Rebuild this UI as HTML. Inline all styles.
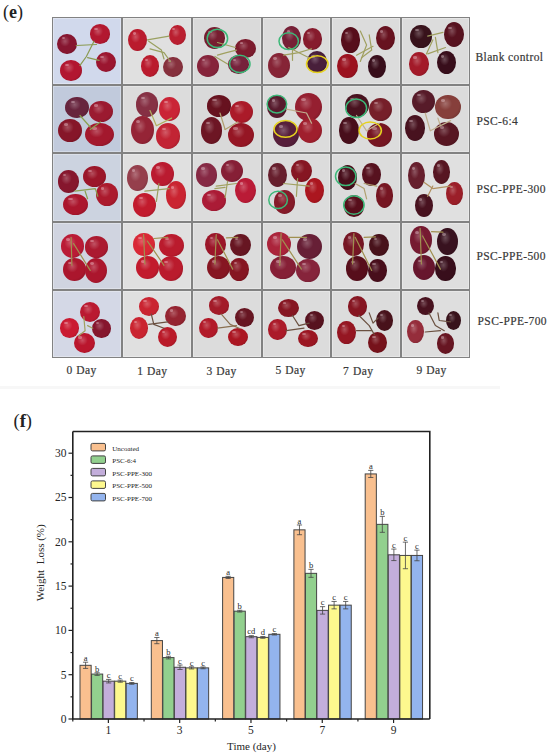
<!DOCTYPE html><html><head><meta charset="utf-8"><style>
*{margin:0;padding:0;box-sizing:border-box}
html,body{width:550px;height:756px;background:#fff;overflow:hidden}
body{position:relative;font-family:"Liberation Serif",serif}
.a{position:absolute}
.lbl{position:absolute;font-size:11.5px;letter-spacing:0.38px;color:#383838;-webkit-text-stroke:0.2px #383838;white-space:pre;line-height:1}
.ch{position:absolute;border-radius:50%}
</style></head><body><div class="a" style="left:3px;top:3px;font-size:18px;color:#222;line-height:1.1">(<b>e</b>)</div>
<div class="a" style="left:52px;top:17px;width:418px;height:341px;background:#828282"></div>
<div class="a" style="left:53px;top:18px;width:68px;height:66px;background:#d1d9ec;overflow:hidden;box-shadow:inset 0 0 0 1px rgba(255,255,255,0.3)">
<div class="ch" style="left:36.7px;top:6.1px;width:20.4px;height:19.6px;background:radial-gradient(ellipse at 40% 36%,#c55264 0,#b21830 30%,#b21830 62%,#791021 100%)"></div>
<div class="ch" style="left:41.3px;top:9.5px;width:3.6px;height:2.2px;background:rgba(255,235,240,0.35);filter:blur(0.4px)"></div>
<div class="ch" style="left:4.1px;top:15.5px;width:19.8px;height:20.4px;background:radial-gradient(ellipse at 40% 36%,#a45064 0,#861630 30%,#861630 62%,#5b0f21 100%)"></div>
<div class="ch" style="left:8.6px;top:19.1px;width:3.5px;height:2.2px;background:rgba(255,235,240,0.35);filter:blur(0.4px)"></div>
<div class="ch" style="left:7.2px;top:42.3px;width:21.6px;height:20.8px;background:radial-gradient(ellipse at 40% 36%,#c55064 0,#b21630 30%,#b21630 62%,#790f21 100%)"></div>
<div class="ch" style="left:12.1px;top:45.9px;width:3.8px;height:2.3px;background:rgba(255,235,240,0.35);filter:blur(0.4px)"></div>
<div class="ch" style="left:42.8px;top:34.1px;width:20.4px;height:20.4px;background:radial-gradient(ellipse at 40% 36%,#b45064 0,#9b1630 30%,#9b1630 62%,#690f21 100%)"></div>
<div class="ch" style="left:47.4px;top:37.7px;width:3.6px;height:2.2px;background:rgba(255,235,240,0.35);filter:blur(0.4px)"></div>
<svg class="a" style="left:0;top:0" width="68" height="66"><path d="M23.2 27.5L43.5 26.5" stroke="#8a9a50" stroke-width="1.2" fill="none" stroke-linecap="round" stroke-linejoin="round"/><path d="M41.0 23.2L33.4 38.5L27.0 47.4" stroke="#8a9a50" stroke-width="1.2" fill="none" stroke-linecap="round" stroke-linejoin="round"/><path d="M34.6 39.7L46.1 42.3" stroke="#8a9a50" stroke-width="1.2" fill="none" stroke-linecap="round" stroke-linejoin="round"/></svg>
</div>
<div class="a" style="left:123px;top:18px;width:68px;height:66px;background:#e0e0e0;overflow:hidden;box-shadow:inset 0 0 0 1px rgba(255,255,255,0.3)">
<div class="ch" style="left:5.4px;top:10.5px;width:19.0px;height:22.4px;background:radial-gradient(ellipse at 40% 36%,#cb5462 0,#ba1b2d 30%,#ba1b2d 62%,#7e121f 100%)"></div>
<div class="ch" style="left:9.7px;top:14.4px;width:3.3px;height:2.5px;background:rgba(255,235,240,0.35);filter:blur(0.4px)"></div>
<div class="ch" style="left:45.6px;top:6.6px;width:17.0px;height:20.4px;background:radial-gradient(ellipse at 40% 36%,#cb5764 0,#ba1f30 30%,#ba1f30 62%,#7e1521 100%)"></div>
<div class="ch" style="left:49.4px;top:10.2px;width:3.0px;height:2.2px;background:rgba(255,235,240,0.35);filter:blur(0.4px)"></div>
<div class="ch" style="left:17.5px;top:36.7px;width:18.4px;height:22.2px;background:radial-gradient(ellipse at 40% 36%,#cb5462 0,#ba1b2d 30%,#ba1b2d 62%,#7e121f 100%)"></div>
<div class="ch" style="left:21.6px;top:40.6px;width:3.2px;height:2.4px;background:rgba(255,235,240,0.35);filter:blur(0.4px)"></div>
<div class="ch" style="left:40.2px;top:38.5px;width:19.8px;height:20.8px;background:radial-gradient(ellipse at 40% 36%,#a4646e 0,#86303d 30%,#86303d 62%,#5b2129 100%)"></div>
<div class="ch" style="left:44.7px;top:42.1px;width:3.5px;height:2.3px;background:rgba(255,235,240,0.35);filter:blur(0.4px)"></div>
<svg class="a" style="left:0;top:0" width="68" height="66"><path d="M24.4 21.9L46.1 18.1" stroke="#9aa060" stroke-width="1.2" fill="none" stroke-linecap="round" stroke-linejoin="round"/><path d="M25.7 23.2L38.4 32.1L41.0 41.0" stroke="#9aa060" stroke-width="1.2" fill="none" stroke-linecap="round" stroke-linejoin="round"/><path d="M27.0 30.8L41.0 34.6L47.4 43.5" stroke="#9aa060" stroke-width="1.2" fill="none" stroke-linecap="round" stroke-linejoin="round"/></svg>
</div>
<div class="a" style="left:193px;top:18px;width:68px;height:66px;background:#dadada;overflow:hidden;box-shadow:inset 0 0 0 1px rgba(255,255,255,0.3)">
<div class="ch" style="left:10.5px;top:9.2px;width:21.0px;height:21.6px;background:radial-gradient(ellipse at 40% 36%,#985664 0,#761d30 30%,#761d30 62%,#501421 100%)"></div>
<div class="ch" style="left:15.2px;top:13.0px;width:3.7px;height:2.4px;background:rgba(255,235,240,0.35);filter:blur(0.4px)"></div>
<div class="ch" style="left:42.3px;top:20.6px;width:20.4px;height:19.0px;background:radial-gradient(ellipse at 40% 36%,#9d5462 0,#7c1b2d 30%,#7c1b2d 62%,#54121f 100%)"></div>
<div class="ch" style="left:46.9px;top:23.9px;width:3.6px;height:2.1px;background:rgba(255,235,240,0.35);filter:blur(0.4px)"></div>
<div class="ch" style="left:3.7px;top:37.2px;width:22.0px;height:21.6px;background:radial-gradient(ellipse at 40% 36%,#a45b6c 0,#86243b 30%,#86243b 62%,#5b1828 100%)"></div>
<div class="ch" style="left:8.6px;top:41.0px;width:3.8px;height:2.4px;background:rgba(255,235,240,0.35);filter:blur(0.4px)"></div>
<div class="ch" style="left:34.6px;top:37.3px;width:21.6px;height:19.0px;background:radial-gradient(ellipse at 40% 36%,#98596c 0,#76223b 30%,#76223b 62%,#501728 100%)"></div>
<div class="ch" style="left:39.5px;top:40.6px;width:3.8px;height:2.1px;background:rgba(255,235,240,0.35);filter:blur(0.4px)"></div>
<svg class="a" style="left:0;top:0" width="68" height="66"><path d="M24.5 24.5L42.3 29.5" stroke="#a0a060" stroke-width="1.2" fill="none" stroke-linecap="round" stroke-linejoin="round"/><path d="M24.5 37.2L33.4 34.6L43.5 32.1" stroke="#a0a060" stroke-width="1.2" fill="none" stroke-linecap="round" stroke-linejoin="round"/><path d="M21.9 38.5L34.6 46.1" stroke="#a0a060" stroke-width="1.2" fill="none" stroke-linecap="round" stroke-linejoin="round"/></svg>
</div>
<div class="a" style="left:263px;top:18px;width:67px;height:66px;background:#dcdcdc;overflow:hidden;box-shadow:inset 0 0 0 1px rgba(255,255,255,0.3)">
<div class="ch" style="left:19.4px;top:8.0px;width:19.0px;height:24.0px;background:radial-gradient(ellipse at 40% 36%,#985768 0,#761f36 30%,#761f36 62%,#501525 100%)"></div>
<div class="ch" style="left:23.7px;top:12.2px;width:3.3px;height:2.6px;background:rgba(255,235,240,0.35);filter:blur(0.4px)"></div>
<div class="ch" style="left:39.8px;top:10.4px;width:19.0px;height:21.2px;background:radial-gradient(ellipse at 40% 36%,#a45462 0,#861b2d 30%,#861b2d 62%,#5b121f 100%)"></div>
<div class="ch" style="left:44.1px;top:14.1px;width:3.3px;height:2.3px;background:rgba(255,235,240,0.35);filter:blur(0.4px)"></div>
<div class="ch" style="left:4.9px;top:34.7px;width:22.0px;height:25.4px;background:radial-gradient(ellipse at 40% 36%,#a45b68 0,#862436 30%,#862436 62%,#5b1825 100%)"></div>
<div class="ch" style="left:9.8px;top:39.1px;width:3.8px;height:2.8px;background:rgba(255,235,240,0.35);filter:blur(0.4px)"></div>
<div class="ch" style="left:43.5px;top:33.4px;width:20.4px;height:21.6px;background:radial-gradient(ellipse at 40% 36%,#76576c 0,#481f3b 30%,#481f3b 62%,#311528 100%)"></div>
<div class="ch" style="left:48.1px;top:37.2px;width:3.6px;height:2.4px;background:rgba(255,235,240,0.35);filter:blur(0.4px)"></div>
<svg class="a" style="left:0;top:0" width="67" height="66"><path d="M25.7 29.5L41.0 37.2L46.1 39.7" stroke="#a0a060" stroke-width="1.2" fill="none" stroke-linecap="round" stroke-linejoin="round"/><path d="M20.6 37.2L35.9 34.6L48.6 30.8" stroke="#a0a060" stroke-width="1.2" fill="none" stroke-linecap="round" stroke-linejoin="round"/><path d="M29.5 30.8L29.5 42.3" stroke="#a0a060" stroke-width="1.2" fill="none" stroke-linecap="round" stroke-linejoin="round"/></svg>
</div>
<div class="a" style="left:332px;top:18px;width:68px;height:66px;background:#dcdcdc;overflow:hidden;box-shadow:inset 0 0 0 1px rgba(255,255,255,0.3)">
<div class="ch" style="left:8.7px;top:9.2px;width:19.6px;height:25.4px;background:radial-gradient(ellipse at 40% 36%,#814a54 0,#570e1b 30%,#570e1b 62%,#3b0a12 100%)"></div>
<div class="ch" style="left:13.1px;top:13.6px;width:3.4px;height:2.8px;background:rgba(255,235,240,0.35);filter:blur(0.4px)"></div>
<div class="ch" style="left:43.5px;top:8.0px;width:19.0px;height:24.0px;background:radial-gradient(ellipse at 40% 36%,#8d4d57 0,#67121f 30%,#67121f 62%,#460c15 100%)"></div>
<div class="ch" style="left:47.8px;top:12.2px;width:3.3px;height:2.6px;background:rgba(255,235,240,0.35);filter:blur(0.4px)"></div>
<div class="ch" style="left:5.4px;top:35.9px;width:20.4px;height:24.2px;background:radial-gradient(ellipse at 40% 36%,#b44d57 0,#9b121f 30%,#9b121f 62%,#690c15 100%)"></div>
<div class="ch" style="left:10.0px;top:40.1px;width:3.6px;height:2.7px;background:rgba(255,235,240,0.35);filter:blur(0.4px)"></div>
<div class="ch" style="left:35.9px;top:37.2px;width:18.6px;height:23.0px;background:radial-gradient(ellipse at 40% 36%,#6a4a54 0,#380e1b 30%,#380e1b 62%,#260a12 100%)"></div>
<div class="ch" style="left:40.1px;top:41.2px;width:3.3px;height:2.5px;background:rgba(255,235,240,0.35);filter:blur(0.4px)"></div>
<svg class="a" style="left:0;top:0" width="68" height="66"><path d="M28.3 13.0L34.6 27.0L28.3 43.5" stroke="#a0a060" stroke-width="1.2" fill="none" stroke-linecap="round" stroke-linejoin="round"/><path d="M37.2 16.8L39.7 32.1L29.5 39.7" stroke="#a0a060" stroke-width="1.2" fill="none" stroke-linecap="round" stroke-linejoin="round"/><path d="M24.5 37.2L41.0 28.3" stroke="#a0a060" stroke-width="1.2" fill="none" stroke-linecap="round" stroke-linejoin="round"/></svg>
</div>
<div class="a" style="left:402px;top:18px;width:67px;height:66px;background:#dcdcdc;overflow:hidden;box-shadow:inset 0 0 0 1px rgba(255,255,255,0.3)">
<div class="ch" style="left:8.4px;top:6.5px;width:21.2px;height:23.0px;background:radial-gradient(ellipse at 40% 36%,#6a4d54 0,#38121b 30%,#38121b 62%,#260c12 100%)"></div>
<div class="ch" style="left:13.2px;top:10.5px;width:3.7px;height:2.5px;background:rgba(255,235,240,0.35);filter:blur(0.4px)"></div>
<div class="ch" style="left:41.8px;top:4.1px;width:20.0px;height:25.0px;background:radial-gradient(ellipse at 40% 36%,#814d57 0,#57121f 30%,#57121f 62%,#3b0c15 100%)"></div>
<div class="ch" style="left:46.3px;top:8.5px;width:3.5px;height:2.8px;background:rgba(255,235,240,0.35);filter:blur(0.4px)"></div>
<div class="ch" style="left:6.6px;top:34.0px;width:20.4px;height:24.0px;background:radial-gradient(ellipse at 40% 36%,#ba535e 0,#a31a29 30%,#a31a29 62%,#6f121c 100%)"></div>
<div class="ch" style="left:11.2px;top:38.2px;width:3.6px;height:2.6px;background:rgba(255,235,240,0.35);filter:blur(0.4px)"></div>
<div class="ch" style="left:34.7px;top:33.4px;width:19.0px;height:23.0px;background:radial-gradient(ellipse at 40% 36%,#6a4a54 0,#380e1b 30%,#380e1b 62%,#260a12 100%)"></div>
<div class="ch" style="left:39.0px;top:37.4px;width:3.3px;height:2.5px;background:rgba(255,235,240,0.35);filter:blur(0.4px)"></div>
<svg class="a" style="left:0;top:0" width="67" height="66"><path d="M25.7 18.1L41.0 14.3" stroke="#a0a060" stroke-width="1.2" fill="none" stroke-linecap="round" stroke-linejoin="round"/><path d="M30.8 21.9L24.4 35.9" stroke="#a0a060" stroke-width="1.2" fill="none" stroke-linecap="round" stroke-linejoin="round"/><path d="M25.7 35.9L43.5 29.5" stroke="#a0a060" stroke-width="1.2" fill="none" stroke-linecap="round" stroke-linejoin="round"/><path d="M33.4 19.4L35.9 34.6" stroke="#a0a060" stroke-width="1.2" fill="none" stroke-linecap="round" stroke-linejoin="round"/></svg>
</div>
<div class="a" style="left:53px;top:86px;width:68px;height:66px;background:#c1cadc;overflow:hidden;box-shadow:inset 0 0 0 1px rgba(255,255,255,0.3)">
<div class="ch" style="left:12.2px;top:11.3px;width:23.6px;height:20.8px;background:radial-gradient(ellipse at 40% 36%,#8d5b6e 0,#67243d 30%,#67243d 62%,#461829 100%)"></div>
<div class="ch" style="left:17.5px;top:14.9px;width:4.1px;height:2.3px;background:rgba(255,235,240,0.35);filter:blur(0.4px)"></div>
<div class="ch" style="left:36.0px;top:14.7px;width:23.6px;height:21.2px;background:radial-gradient(ellipse at 40% 36%,#b45364 0,#9b1a30 30%,#9b1a30 62%,#691221 100%)"></div>
<div class="ch" style="left:41.3px;top:18.4px;width:4.1px;height:2.3px;background:rgba(255,235,240,0.35);filter:blur(0.4px)"></div>
<div class="ch" style="left:5.4px;top:33.4px;width:23.6px;height:23.0px;background:radial-gradient(ellipse at 40% 36%,#a4505e 0,#861629 30%,#861629 62%,#5b0f1c 100%)"></div>
<div class="ch" style="left:10.7px;top:37.4px;width:4.1px;height:2.5px;background:rgba(255,235,240,0.35);filter:blur(0.4px)"></div>
<div class="ch" style="left:32.2px;top:37.2px;width:28.4px;height:23.0px;background:radial-gradient(ellipse at 40% 36%,#ba5262 0,#a3182d 30%,#a3182d 62%,#6f101f 100%)"></div>
<div class="ch" style="left:38.6px;top:41.2px;width:5.0px;height:2.5px;background:rgba(255,235,240,0.35);filter:blur(0.4px)"></div>
<svg class="a" style="left:0;top:0" width="68" height="66"><path d="M27.0 29.5L37.2 41.0" stroke="#8aa050" stroke-width="1.2" fill="none" stroke-linecap="round" stroke-linejoin="round"/><path d="M47.4 35.9L37.2 43.5" stroke="#8aa050" stroke-width="1.2" fill="none" stroke-linecap="round" stroke-linejoin="round"/></svg>
</div>
<div class="a" style="left:123px;top:86px;width:68px;height:66px;background:#dcdcdc;overflow:hidden;box-shadow:inset 0 0 0 1px rgba(255,255,255,0.3)">
<div class="ch" style="left:13.0px;top:6.2px;width:22.4px;height:24.6px;background:radial-gradient(ellipse at 40% 36%,#a46473 0,#863044 30%,#863044 62%,#5b212e 100%)"></div>
<div class="ch" style="left:18.0px;top:10.5px;width:3.9px;height:2.7px;background:rgba(255,235,240,0.35);filter:blur(0.4px)"></div>
<div class="ch" style="left:35.9px;top:10.5px;width:21.6px;height:24.2px;background:radial-gradient(ellipse at 40% 36%,#d75b68 0,#ca2436 30%,#ca2436 62%,#891825 100%)"></div>
<div class="ch" style="left:40.8px;top:14.7px;width:3.8px;height:2.7px;background:rgba(255,235,240,0.35);filter:blur(0.4px)"></div>
<div class="ch" style="left:8.4px;top:29.5px;width:22.4px;height:28.0px;background:radial-gradient(ellipse at 40% 36%,#b05b68 0,#952436 30%,#952436 62%,#651825 100%)"></div>
<div class="ch" style="left:13.4px;top:34.4px;width:3.9px;height:3.1px;background:rgba(255,235,240,0.35);filter:blur(0.4px)"></div>
<div class="ch" style="left:33.3px;top:37.2px;width:24.2px;height:25.4px;background:radial-gradient(ellipse at 40% 36%,#d15b67 0,#c22434 30%,#c22434 62%,#841823 100%)"></div>
<div class="ch" style="left:38.7px;top:41.6px;width:4.2px;height:2.8px;background:rgba(255,235,240,0.35);filter:blur(0.4px)"></div>
<svg class="a" style="left:0;top:0" width="68" height="66"><path d="M27.0 24.5L33.4 39.7L48.6 32.1" stroke="#b0b060" stroke-width="1.2" fill="none" stroke-linecap="round" stroke-linejoin="round"/></svg>
</div>
<div class="a" style="left:193px;top:86px;width:68px;height:66px;background:#d9d9d9;overflow:hidden;box-shadow:inset 0 0 0 1px rgba(255,255,255,0.3)">
<div class="ch" style="left:13.9px;top:9.2px;width:24.6px;height:21.6px;background:radial-gradient(ellipse at 40% 36%,#8d4d57 0,#67121f 30%,#67121f 62%,#460c15 100%)"></div>
<div class="ch" style="left:19.4px;top:13.0px;width:4.3px;height:2.4px;background:rgba(255,235,240,0.35);filter:blur(0.4px)"></div>
<div class="ch" style="left:37.1px;top:14.9px;width:23.0px;height:21.8px;background:radial-gradient(ellipse at 40% 36%,#c0535e 0,#ab1a29 30%,#ab1a29 62%,#74121c 100%)"></div>
<div class="ch" style="left:42.3px;top:18.7px;width:4.0px;height:2.4px;background:rgba(255,235,240,0.35);filter:blur(0.4px)"></div>
<div class="ch" style="left:7.9px;top:30.8px;width:21.6px;height:26.8px;background:radial-gradient(ellipse at 40% 36%,#92505b 0,#6d1624 30%,#6d1624 62%,#4a0f18 100%)"></div>
<div class="ch" style="left:12.8px;top:35.5px;width:3.8px;height:2.9px;background:rgba(255,235,240,0.35);filter:blur(0.4px)"></div>
<div class="ch" style="left:34.6px;top:37.2px;width:26.0px;height:24.2px;background:radial-gradient(ellipse at 40% 36%,#b0505b 0,#951624 30%,#951624 62%,#650f18 100%)"></div>
<div class="ch" style="left:40.4px;top:41.4px;width:4.5px;height:2.7px;background:rgba(255,235,240,0.35);filter:blur(0.4px)"></div>
<svg class="a" style="left:0;top:0" width="68" height="66"><path d="M27.0 27.0L32.1 43.5" stroke="#b0a070" stroke-width="1.2" fill="none" stroke-linecap="round" stroke-linejoin="round"/><path d="M44.8 35.9L32.1 43.5" stroke="#b0a070" stroke-width="1.2" fill="none" stroke-linecap="round" stroke-linejoin="round"/></svg>
</div>
<div class="a" style="left:263px;top:86px;width:67px;height:66px;background:#dcdcdc;overflow:hidden;box-shadow:inset 0 0 0 1px rgba(255,255,255,0.3)">
<div class="ch" style="left:4.1px;top:9.2px;width:20.4px;height:23.0px;background:radial-gradient(ellipse at 40% 36%,#815462 0,#571b2d 30%,#571b2d 62%,#3b121f 100%)"></div>
<div class="ch" style="left:8.7px;top:13.2px;width:3.6px;height:2.5px;background:rgba(255,235,240,0.35);filter:blur(0.4px)"></div>
<div class="ch" style="left:32.1px;top:6.6px;width:27.2px;height:28.0px;background:radial-gradient(ellipse at 40% 36%,#b05764 0,#951f30 30%,#951f30 62%,#651521 100%)"></div>
<div class="ch" style="left:38.2px;top:11.5px;width:4.8px;height:3.1px;background:rgba(255,235,240,0.35);filter:blur(0.4px)"></div>
<div class="ch" style="left:10.4px;top:34.6px;width:25.4px;height:26.8px;background:radial-gradient(ellipse at 40% 36%,#81576c 0,#571f3b 30%,#571f3b 62%,#3b1528 100%)"></div>
<div class="ch" style="left:16.1px;top:39.3px;width:4.4px;height:2.9px;background:rgba(255,235,240,0.35);filter:blur(0.4px)"></div>
<div class="ch" style="left:34.6px;top:32.0px;width:24.2px;height:25.0px;background:radial-gradient(ellipse at 40% 36%,#b85762 0,#a01f2d 30%,#a01f2d 62%,#6d151f 100%)"></div>
<div class="ch" style="left:40.0px;top:36.4px;width:4.2px;height:2.8px;background:rgba(255,235,240,0.35);filter:blur(0.4px)"></div>
<svg class="a" style="left:0;top:0" width="67" height="66"><path d="M23.2 23.2L43.5 27.0L48.6 37.2" stroke="#c0b090" stroke-width="1.2" fill="none" stroke-linecap="round" stroke-linejoin="round"/></svg>
</div>
<div class="a" style="left:332px;top:86px;width:68px;height:66px;background:#dcdcdc;overflow:hidden;box-shadow:inset 0 0 0 1px rgba(255,255,255,0.3)">
<div class="ch" style="left:13.1px;top:7.9px;width:23.6px;height:23.0px;background:radial-gradient(ellipse at 40% 36%,#764d57 0,#48121f 30%,#48121f 62%,#310c15 100%)"></div>
<div class="ch" style="left:18.4px;top:11.9px;width:4.1px;height:2.5px;background:rgba(255,235,240,0.35);filter:blur(0.4px)"></div>
<div class="ch" style="left:36.7px;top:11.7px;width:23.0px;height:23.0px;background:radial-gradient(ellipse at 40% 36%,#98575e 0,#761f29 30%,#761f29 62%,#50151c 100%)"></div>
<div class="ch" style="left:41.9px;top:15.7px;width:4.0px;height:2.5px;background:rgba(255,235,240,0.35);filter:blur(0.4px)"></div>
<div class="ch" style="left:6.7px;top:30.8px;width:20.8px;height:26.8px;background:radial-gradient(ellipse at 40% 36%,#764a54 0,#480e1b 30%,#480e1b 62%,#310a12 100%)"></div>
<div class="ch" style="left:11.4px;top:35.5px;width:3.6px;height:2.9px;background:rgba(255,235,240,0.35);filter:blur(0.4px)"></div>
<div class="ch" style="left:34.6px;top:37.2px;width:25.0px;height:24.2px;background:radial-gradient(ellipse at 40% 36%,#985059 0,#761622 30%,#761622 62%,#500f17 100%)"></div>
<div class="ch" style="left:40.2px;top:41.4px;width:4.4px;height:2.7px;background:rgba(255,235,240,0.35);filter:blur(0.4px)"></div>
<svg class="a" style="left:0;top:0" width="68" height="66"><path d="M24.5 29.5L34.6 44.8L47.4 37.2" stroke="#c0b090" stroke-width="1.2" fill="none" stroke-linecap="round" stroke-linejoin="round"/></svg>
</div>
<div class="a" style="left:402px;top:86px;width:67px;height:66px;background:#dcdcdc;overflow:hidden;box-shadow:inset 0 0 0 1px rgba(255,255,255,0.3)">
<div class="ch" style="left:9.9px;top:3.6px;width:23.4px;height:23.4px;background:radial-gradient(ellipse at 40% 36%,#81545e 0,#571b29 30%,#571b29 62%,#3b121c 100%)"></div>
<div class="ch" style="left:15.2px;top:7.7px;width:4.1px;height:2.6px;background:rgba(255,235,240,0.35);filter:blur(0.4px)"></div>
<div class="ch" style="left:33.4px;top:9.2px;width:25.4px;height:24.2px;background:radial-gradient(ellipse at 40% 36%,#a46f6c 0,#863f3b 30%,#863f3b 62%,#5b2b28 100%)"></div>
<div class="ch" style="left:39.1px;top:13.4px;width:4.4px;height:2.7px;background:rgba(255,235,240,0.35);filter:blur(0.4px)"></div>
<div class="ch" style="left:2.8px;top:29.0px;width:20.4px;height:26.0px;background:radial-gradient(ellipse at 40% 36%,#764d57 0,#48121f 30%,#48121f 62%,#310c15 100%)"></div>
<div class="ch" style="left:7.4px;top:33.5px;width:3.6px;height:2.9px;background:rgba(255,235,240,0.35);filter:blur(0.4px)"></div>
<div class="ch" style="left:32.1px;top:35.9px;width:25.4px;height:24.2px;background:radial-gradient(ellipse at 40% 36%,#815059 0,#571622 30%,#571622 62%,#3b0f17 100%)"></div>
<div class="ch" style="left:37.8px;top:40.1px;width:4.4px;height:2.7px;background:rgba(255,235,240,0.35);filter:blur(0.4px)"></div>
<svg class="a" style="left:0;top:0" width="67" height="66"><path d="M23.2 27.0L28.3 44.8L48.6 34.6" stroke="#c0b090" stroke-width="1.2" fill="none" stroke-linecap="round" stroke-linejoin="round"/><path d="M35.9 32.1L38.4 39.7" stroke="#c0b090" stroke-width="1.2" fill="none" stroke-linecap="round" stroke-linejoin="round"/></svg>
</div>
<div class="a" style="left:53px;top:154px;width:68px;height:67px;background:#ccd3e0;overflow:hidden;box-shadow:inset 0 0 0 1px rgba(255,255,255,0.3)">
<div class="ch" style="left:4.6px;top:15.5px;width:21.8px;height:23.0px;background:radial-gradient(ellipse at 40% 36%,#a45062 0,#86162d 30%,#86162d 62%,#5b0f1f 100%)"></div>
<div class="ch" style="left:9.5px;top:19.5px;width:3.8px;height:2.5px;background:rgba(255,235,240,0.35);filter:blur(0.4px)"></div>
<div class="ch" style="left:29.6px;top:11.7px;width:23.4px;height:21.6px;background:radial-gradient(ellipse at 40% 36%,#b4505e 0,#9b1629 30%,#9b1629 62%,#690f1c 100%)"></div>
<div class="ch" style="left:34.9px;top:15.5px;width:4.1px;height:2.4px;background:rgba(255,235,240,0.35);filter:blur(0.4px)"></div>
<div class="ch" style="left:42.8px;top:29.0px;width:21.8px;height:23.4px;background:radial-gradient(ellipse at 40% 36%,#c05362 0,#ab1a2d 30%,#ab1a2d 62%,#74121f 100%)"></div>
<div class="ch" style="left:47.7px;top:33.1px;width:3.8px;height:2.6px;background:rgba(255,235,240,0.35);filter:blur(0.4px)"></div>
<div class="ch" style="left:9.7px;top:39.8px;width:25.0px;height:21.6px;background:radial-gradient(ellipse at 40% 36%,#c05062 0,#ab162d 30%,#ab162d 62%,#740f1f 100%)"></div>
<div class="ch" style="left:15.3px;top:43.6px;width:4.4px;height:2.4px;background:rgba(255,235,240,0.35);filter:blur(0.4px)"></div>
<svg class="a" style="left:0;top:0" width="68" height="67"><path d="M21.9 37.2L42.3 34.6L44.8 42.3" stroke="#8aa050" stroke-width="1.2" fill="none" stroke-linecap="round" stroke-linejoin="round"/><path d="M32.1 37.2L34.6 44.8" stroke="#8aa050" stroke-width="1.2" fill="none" stroke-linecap="round" stroke-linejoin="round"/></svg>
</div>
<div class="a" style="left:123px;top:154px;width:68px;height:67px;background:#e0e0e0;overflow:hidden;box-shadow:inset 0 0 0 1px rgba(255,255,255,0.3)">
<div class="ch" style="left:4.0px;top:10.5px;width:21.2px;height:26.8px;background:radial-gradient(ellipse at 40% 36%,#b06f79 0,#953f4c 30%,#953f4c 62%,#652b34 100%)"></div>
<div class="ch" style="left:8.8px;top:15.2px;width:3.7px;height:2.9px;background:rgba(255,235,240,0.35);filter:blur(0.4px)"></div>
<div class="ch" style="left:28.3px;top:7.9px;width:22.4px;height:24.2px;background:radial-gradient(ellipse at 40% 36%,#cb5464 0,#ba1b30 30%,#ba1b30 62%,#7e1221 100%)"></div>
<div class="ch" style="left:33.3px;top:12.1px;width:3.9px;height:2.7px;background:rgba(255,235,240,0.35);filter:blur(0.4px)"></div>
<div class="ch" style="left:43.0px;top:27.0px;width:20.4px;height:28.0px;background:radial-gradient(ellipse at 40% 36%,#d75b64 0,#ca2431 30%,#ca2431 62%,#891821 100%)"></div>
<div class="ch" style="left:47.6px;top:31.9px;width:3.6px;height:3.1px;background:rgba(255,235,240,0.35);filter:blur(0.4px)"></div>
<div class="ch" style="left:10.4px;top:38.5px;width:23.0px;height:24.2px;background:radial-gradient(ellipse at 40% 36%,#d15462 0,#c21b2d 30%,#c21b2d 62%,#84121f 100%)"></div>
<div class="ch" style="left:15.6px;top:42.7px;width:4.0px;height:2.7px;background:rgba(255,235,240,0.35);filter:blur(0.4px)"></div>
<svg class="a" style="left:0;top:0" width="68" height="67"><path d="M21.9 37.2L46.1 34.6" stroke="#9aa060" stroke-width="1.2" fill="none" stroke-linecap="round" stroke-linejoin="round"/><path d="M35.9 29.5L33.4 47.4" stroke="#9aa060" stroke-width="1.2" fill="none" stroke-linecap="round" stroke-linejoin="round"/></svg>
</div>
<div class="a" style="left:193px;top:154px;width:68px;height:67px;background:#dcdcdc;overflow:hidden;box-shadow:inset 0 0 0 1px rgba(255,255,255,0.3)">
<div class="ch" style="left:2.9px;top:9.2px;width:21.6px;height:24.2px;background:radial-gradient(ellipse at 40% 36%,#a45e73 0,#862944 30%,#862944 62%,#5b1c2e 100%)"></div>
<div class="ch" style="left:7.8px;top:13.4px;width:3.8px;height:2.7px;background:rgba(255,235,240,0.35);filter:blur(0.4px)"></div>
<div class="ch" style="left:27.5px;top:6.1px;width:22.4px;height:22.2px;background:radial-gradient(ellipse at 40% 36%,#a45768 0,#861f36 30%,#861f36 62%,#5b1525 100%)"></div>
<div class="ch" style="left:32.5px;top:10.0px;width:3.9px;height:2.4px;background:rgba(255,235,240,0.35);filter:blur(0.4px)"></div>
<div class="ch" style="left:42.3px;top:23.9px;width:20.4px;height:24.8px;background:radial-gradient(ellipse at 40% 36%,#cb5468 0,#ba1b36 30%,#ba1b36 62%,#7e1225 100%)"></div>
<div class="ch" style="left:46.9px;top:28.2px;width:3.6px;height:2.7px;background:rgba(255,235,240,0.35);filter:blur(0.4px)"></div>
<div class="ch" style="left:8.7px;top:35.9px;width:24.0px;height:21.2px;background:radial-gradient(ellipse at 40% 36%,#c05468 0,#ab1b36 30%,#ab1b36 62%,#741225 100%)"></div>
<div class="ch" style="left:14.1px;top:39.6px;width:4.2px;height:2.3px;background:rgba(255,235,240,0.35);filter:blur(0.4px)"></div>
<svg class="a" style="left:0;top:0" width="68" height="67"><path d="M23.2 32.1L43.5 29.5" stroke="#a0a060" stroke-width="1.2" fill="none" stroke-linecap="round" stroke-linejoin="round"/><path d="M34.6 27.0L32.1 43.5" stroke="#a0a060" stroke-width="1.2" fill="none" stroke-linecap="round" stroke-linejoin="round"/><path d="M21.9 34.6L32.1 33.4" stroke="#a0a060" stroke-width="1.2" fill="none" stroke-linecap="round" stroke-linejoin="round"/></svg>
</div>
<div class="a" style="left:263px;top:154px;width:67px;height:67px;background:#dcdcdc;overflow:hidden;box-shadow:inset 0 0 0 1px rgba(255,255,255,0.3)">
<div class="ch" style="left:4.8px;top:8.7px;width:19.6px;height:24.6px;background:radial-gradient(ellipse at 40% 36%,#8d5762 0,#671f2d 30%,#671f2d 62%,#46151f 100%)"></div>
<div class="ch" style="left:9.2px;top:13.0px;width:3.4px;height:2.7px;background:rgba(255,235,240,0.35);filter:blur(0.4px)"></div>
<div class="ch" style="left:27.8px;top:6.1px;width:20.8px;height:22.2px;background:radial-gradient(ellipse at 40% 36%,#a45059 0,#861622 30%,#861622 62%,#5b0f17 100%)"></div>
<div class="ch" style="left:32.5px;top:10.0px;width:3.6px;height:2.4px;background:rgba(255,235,240,0.35);filter:blur(0.4px)"></div>
<div class="ch" style="left:42.3px;top:24.0px;width:19.0px;height:25.4px;background:radial-gradient(ellipse at 40% 36%,#c05057 0,#ab161f 30%,#ab161f 62%,#740f15 100%)"></div>
<div class="ch" style="left:46.6px;top:28.4px;width:3.3px;height:2.8px;background:rgba(255,235,240,0.35);filter:blur(0.4px)"></div>
<div class="ch" style="left:10.5px;top:35.9px;width:21.6px;height:24.2px;background:radial-gradient(ellipse at 40% 36%,#a4545e 0,#861b29 30%,#861b29 62%,#5b121c 100%)"></div>
<div class="ch" style="left:15.4px;top:40.1px;width:3.8px;height:2.7px;background:rgba(255,235,240,0.35);filter:blur(0.4px)"></div>
<svg class="a" style="left:0;top:0" width="67" height="67"><path d="M20.6 29.5L46.1 32.1" stroke="#a0a060" stroke-width="1.2" fill="none" stroke-linecap="round" stroke-linejoin="round"/><path d="M34.6 24.5L33.4 42.3" stroke="#a0a060" stroke-width="1.2" fill="none" stroke-linecap="round" stroke-linejoin="round"/></svg>
</div>
<div class="a" style="left:332px;top:154px;width:68px;height:67px;background:#dcdcdc;overflow:hidden;box-shadow:inset 0 0 0 1px rgba(255,255,255,0.3)">
<div class="ch" style="left:5.5px;top:10.5px;width:19.0px;height:25.4px;background:radial-gradient(ellipse at 40% 36%,#764a54 0,#480e1b 30%,#480e1b 62%,#310a12 100%)"></div>
<div class="ch" style="left:9.8px;top:14.9px;width:3.3px;height:2.8px;background:rgba(255,235,240,0.35);filter:blur(0.4px)"></div>
<div class="ch" style="left:29.6px;top:8.7px;width:19.8px;height:23.4px;background:radial-gradient(ellipse at 40% 36%,#814d57 0,#57121f 30%,#57121f 62%,#3b0c15 100%)"></div>
<div class="ch" style="left:34.1px;top:12.8px;width:3.5px;height:2.6px;background:rgba(255,235,240,0.35);filter:blur(0.4px)"></div>
<div class="ch" style="left:43.6px;top:29.1px;width:17.8px;height:24.6px;background:radial-gradient(ellipse at 40% 36%,#985059 0,#761622 30%,#761622 62%,#500f17 100%)"></div>
<div class="ch" style="left:47.6px;top:33.4px;width:3.1px;height:2.7px;background:rgba(255,235,240,0.35);filter:blur(0.4px)"></div>
<div class="ch" style="left:11.7px;top:41.0px;width:20.4px;height:21.6px;background:radial-gradient(ellipse at 40% 36%,#814a54 0,#570e1b 30%,#570e1b 62%,#3b0a12 100%)"></div>
<div class="ch" style="left:16.3px;top:44.8px;width:3.6px;height:2.4px;background:rgba(255,235,240,0.35);filter:blur(0.4px)"></div>
<svg class="a" style="left:0;top:0" width="68" height="67"><path d="M23.2 29.5L32.1 34.6L34.6 44.8" stroke="#b0a070" stroke-width="1.2" fill="none" stroke-linecap="round" stroke-linejoin="round"/><path d="M32.1 29.5L44.8 32.1" stroke="#b0a070" stroke-width="1.2" fill="none" stroke-linecap="round" stroke-linejoin="round"/></svg>
</div>
<div class="a" style="left:402px;top:154px;width:67px;height:67px;background:#e0e0e0;overflow:hidden;box-shadow:inset 0 0 0 1px rgba(255,255,255,0.3)">
<div class="ch" style="left:6.2px;top:8.0px;width:16.6px;height:26.8px;background:radial-gradient(ellipse at 40% 36%,#8d5762 0,#671f2d 30%,#671f2d 62%,#46151f 100%)"></div>
<div class="ch" style="left:9.9px;top:12.7px;width:2.9px;height:2.9px;background:rgba(255,235,240,0.35);filter:blur(0.4px)"></div>
<div class="ch" style="left:30.8px;top:6.2px;width:17.0px;height:23.6px;background:radial-gradient(ellipse at 40% 36%,#815059 0,#571622 30%,#571622 62%,#3b0f17 100%)"></div>
<div class="ch" style="left:34.6px;top:10.3px;width:3.0px;height:2.6px;background:rgba(255,235,240,0.35);filter:blur(0.4px)"></div>
<div class="ch" style="left:44.0px;top:27.9px;width:16.6px;height:22.8px;background:radial-gradient(ellipse at 40% 36%,#b4575e 0,#9b1f29 30%,#9b1f29 62%,#69151c 100%)"></div>
<div class="ch" style="left:47.7px;top:31.9px;width:2.9px;height:2.5px;background:rgba(255,235,240,0.35);filter:blur(0.4px)"></div>
<div class="ch" style="left:13.0px;top:40.4px;width:18.0px;height:22.4px;background:radial-gradient(ellipse at 40% 36%,#764d57 0,#48121f 30%,#48121f 62%,#310c15 100%)"></div>
<div class="ch" style="left:17.1px;top:44.3px;width:3.1px;height:2.5px;background:rgba(255,235,240,0.35);filter:blur(0.4px)"></div>
<svg class="a" style="left:0;top:0" width="67" height="67"><path d="M21.9 28.3L30.8 34.6L48.6 32.1" stroke="#b09060" stroke-width="1.2" fill="none" stroke-linecap="round" stroke-linejoin="round"/><path d="M30.8 32.1L25.7 42.3" stroke="#b09060" stroke-width="1.2" fill="none" stroke-linecap="round" stroke-linejoin="round"/></svg>
</div>
<div class="a" style="left:53px;top:223px;width:68px;height:66px;background:#d0d4e0;overflow:hidden;box-shadow:inset 0 0 0 1px rgba(255,255,255,0.3)">
<div class="ch" style="left:7.8px;top:11.2px;width:23.0px;height:23.4px;background:radial-gradient(ellipse at 40% 36%,#cb5468 0,#ba1b36 30%,#ba1b36 62%,#7e1225 100%)"></div>
<div class="ch" style="left:13.0px;top:15.3px;width:4.0px;height:2.6px;background:rgba(255,235,240,0.35);filter:blur(0.4px)"></div>
<div class="ch" style="left:32.1px;top:13.0px;width:23.4px;height:21.6px;background:radial-gradient(ellipse at 40% 36%,#c05364 0,#ab1a30 30%,#ab1a30 62%,#741221 100%)"></div>
<div class="ch" style="left:37.4px;top:16.8px;width:4.1px;height:2.4px;background:rgba(255,235,240,0.35);filter:blur(0.4px)"></div>
<div class="ch" style="left:9.7px;top:34.5px;width:23.6px;height:23.0px;background:radial-gradient(ellipse at 40% 36%,#c05062 0,#ab162d 30%,#ab162d 62%,#740f1f 100%)"></div>
<div class="ch" style="left:15.0px;top:38.5px;width:4.1px;height:2.5px;background:rgba(255,235,240,0.35);filter:blur(0.4px)"></div>
<div class="ch" style="left:32.1px;top:34.6px;width:22.4px;height:25.4px;background:radial-gradient(ellipse at 40% 36%,#c05062 0,#ab162d 30%,#ab162d 62%,#740f1f 100%)"></div>
<div class="ch" style="left:37.1px;top:39.0px;width:3.9px;height:2.8px;background:rgba(255,235,240,0.35);filter:blur(0.4px)"></div>
<svg class="a" style="left:0;top:0" width="68" height="66"><path d="M18.1 14.3L18.9 42.3" stroke="#a09050" stroke-width="1.2" fill="none" stroke-linecap="round" stroke-linejoin="round"/><path d="M20.6 20.6L37.2 47.4" stroke="#a09050" stroke-width="1.2" fill="none" stroke-linecap="round" stroke-linejoin="round"/></svg>
</div>
<div class="a" style="left:123px;top:223px;width:68px;height:66px;background:#e0e0e0;overflow:hidden;box-shadow:inset 0 0 0 1px rgba(255,255,255,0.3)">
<div class="ch" style="left:9.9px;top:9.7px;width:22.2px;height:23.6px;background:radial-gradient(ellipse at 40% 36%,#e25e68 0,#d92936 30%,#d92936 62%,#941c25 100%)"></div>
<div class="ch" style="left:14.9px;top:13.8px;width:3.9px;height:2.6px;background:rgba(255,235,240,0.35);filter:blur(0.4px)"></div>
<div class="ch" style="left:35.9px;top:10.5px;width:25.0px;height:23.0px;background:radial-gradient(ellipse at 40% 36%,#cb5462 0,#ba1b2d 30%,#ba1b2d 62%,#7e121f 100%)"></div>
<div class="ch" style="left:41.5px;top:14.5px;width:4.4px;height:2.5px;background:rgba(255,235,240,0.35);filter:blur(0.4px)"></div>
<div class="ch" style="left:12.5px;top:33.4px;width:23.4px;height:23.0px;background:radial-gradient(ellipse at 40% 36%,#d15462 0,#c21b2d 30%,#c21b2d 62%,#84121f 100%)"></div>
<div class="ch" style="left:17.8px;top:37.4px;width:4.1px;height:2.5px;background:rgba(255,235,240,0.35);filter:blur(0.4px)"></div>
<div class="ch" style="left:35.9px;top:33.4px;width:24.2px;height:24.2px;background:radial-gradient(ellipse at 40% 36%,#cb5462 0,#ba1b2d 30%,#ba1b2d 62%,#7e121f 100%)"></div>
<div class="ch" style="left:41.3px;top:37.6px;width:4.2px;height:2.7px;background:rgba(255,235,240,0.35);filter:blur(0.4px)"></div>
<svg class="a" style="left:0;top:0" width="68" height="66"><path d="M20.6 11.7L21.9 41.0" stroke="#a09050" stroke-width="1.2" fill="none" stroke-linecap="round" stroke-linejoin="round"/><path d="M24.4 18.1L41.0 42.3" stroke="#a09050" stroke-width="1.2" fill="none" stroke-linecap="round" stroke-linejoin="round"/><path d="M30.8 15.5L44.8 14.3" stroke="#a09050" stroke-width="1.2" fill="none" stroke-linecap="round" stroke-linejoin="round"/></svg>
</div>
<div class="a" style="left:193px;top:223px;width:68px;height:66px;background:#dcdcdc;overflow:hidden;box-shadow:inset 0 0 0 1px rgba(255,255,255,0.3)">
<div class="ch" style="left:11.8px;top:9.7px;width:20.8px;height:23.6px;background:radial-gradient(ellipse at 40% 36%,#b4505e 0,#9b1629 30%,#9b1629 62%,#690f1c 100%)"></div>
<div class="ch" style="left:16.5px;top:13.8px;width:3.6px;height:2.6px;background:rgba(255,235,240,0.35);filter:blur(0.4px)"></div>
<div class="ch" style="left:37.2px;top:11.2px;width:20.8px;height:22.2px;background:radial-gradient(ellipse at 40% 36%,#8d5059 0,#671622 30%,#671622 62%,#460f17 100%)"></div>
<div class="ch" style="left:41.9px;top:15.1px;width:3.6px;height:2.4px;background:rgba(255,235,240,0.35);filter:blur(0.4px)"></div>
<div class="ch" style="left:14.2px;top:33.4px;width:23.0px;height:23.0px;background:radial-gradient(ellipse at 40% 36%,#a45059 0,#861622 30%,#861622 62%,#5b0f17 100%)"></div>
<div class="ch" style="left:19.4px;top:37.4px;width:4.0px;height:2.5px;background:rgba(255,235,240,0.35);filter:blur(0.4px)"></div>
<div class="ch" style="left:35.9px;top:34.6px;width:20.4px;height:23.4px;background:radial-gradient(ellipse at 40% 36%,#a45059 0,#861622 30%,#861622 62%,#5b0f17 100%)"></div>
<div class="ch" style="left:40.5px;top:38.7px;width:3.6px;height:2.6px;background:rgba(255,235,240,0.35);filter:blur(0.4px)"></div>
<svg class="a" style="left:0;top:0" width="68" height="66"><path d="M23.2 11.7L21.9 41.0" stroke="#a09050" stroke-width="1.2" fill="none" stroke-linecap="round" stroke-linejoin="round"/><path d="M24.5 16.8L39.7 46.1" stroke="#a09050" stroke-width="1.2" fill="none" stroke-linecap="round" stroke-linejoin="round"/><path d="M33.4 14.8L44.8 14.3" stroke="#a09050" stroke-width="1.2" fill="none" stroke-linecap="round" stroke-linejoin="round"/></svg>
</div>
<div class="a" style="left:263px;top:223px;width:67px;height:66px;background:#dcdcdc;overflow:hidden;box-shadow:inset 0 0 0 1px rgba(255,255,255,0.3)">
<div class="ch" style="left:4.1px;top:9.2px;width:24.2px;height:24.2px;background:radial-gradient(ellipse at 40% 36%,#c05b6c 0,#ab243b 30%,#ab243b 62%,#741828 100%)"></div>
<div class="ch" style="left:9.5px;top:13.4px;width:4.2px;height:2.7px;background:rgba(255,235,240,0.35);filter:blur(0.4px)"></div>
<div class="ch" style="left:33.9px;top:10.5px;width:25.0px;height:25.4px;background:radial-gradient(ellipse at 40% 36%,#8d5768 0,#671f36 30%,#671f36 62%,#461525 100%)"></div>
<div class="ch" style="left:39.5px;top:14.9px;width:4.4px;height:2.8px;background:rgba(255,235,240,0.35);filter:blur(0.4px)"></div>
<div class="ch" style="left:7.4px;top:33.4px;width:26.0px;height:23.0px;background:radial-gradient(ellipse at 40% 36%,#a45768 0,#861f36 30%,#861f36 62%,#5b1525 100%)"></div>
<div class="ch" style="left:13.2px;top:37.4px;width:4.5px;height:2.5px;background:rgba(255,235,240,0.35);filter:blur(0.4px)"></div>
<div class="ch" style="left:33.4px;top:35.8px;width:23.4px;height:23.0px;background:radial-gradient(ellipse at 40% 36%,#a45b6c 0,#86243b 30%,#86243b 62%,#5b1828 100%)"></div>
<div class="ch" style="left:38.7px;top:39.8px;width:4.1px;height:2.5px;background:rgba(255,235,240,0.35);filter:blur(0.4px)"></div>
<svg class="a" style="left:0;top:0" width="67" height="66"><path d="M18.1 10.5L16.8 42.3" stroke="#a09050" stroke-width="1.2" fill="none" stroke-linecap="round" stroke-linejoin="round"/><path d="M19.4 16.8L38.4 46.1" stroke="#a09050" stroke-width="1.2" fill="none" stroke-linecap="round" stroke-linejoin="round"/><path d="M25.7 14.3L43.5 14.3" stroke="#a09050" stroke-width="1.2" fill="none" stroke-linecap="round" stroke-linejoin="round"/></svg>
</div>
<div class="a" style="left:332px;top:223px;width:68px;height:66px;background:#dedede;overflow:hidden;box-shadow:inset 0 0 0 1px rgba(255,255,255,0.3)">
<div class="ch" style="left:11.2px;top:8.7px;width:20.4px;height:24.6px;background:radial-gradient(ellipse at 40% 36%,#98505b 0,#761624 30%,#761624 62%,#500f18 100%)"></div>
<div class="ch" style="left:15.8px;top:13.0px;width:3.6px;height:2.7px;background:rgba(255,235,240,0.35);filter:blur(0.4px)"></div>
<div class="ch" style="left:37.2px;top:11.2px;width:19.8px;height:22.2px;background:radial-gradient(ellipse at 40% 36%,#764d54 0,#48121b 30%,#48121b 62%,#310c12 100%)"></div>
<div class="ch" style="left:41.7px;top:15.1px;width:3.5px;height:2.4px;background:rgba(255,235,240,0.35);filter:blur(0.4px)"></div>
<div class="ch" style="left:13.8px;top:33.4px;width:22.2px;height:24.2px;background:radial-gradient(ellipse at 40% 36%,#814a54 0,#570e1b 30%,#570e1b 62%,#3b0a12 100%)"></div>
<div class="ch" style="left:18.8px;top:37.6px;width:3.9px;height:2.7px;background:rgba(255,235,240,0.35);filter:blur(0.4px)"></div>
<div class="ch" style="left:35.9px;top:35.8px;width:19.6px;height:23.0px;background:radial-gradient(ellipse at 40% 36%,#764a54 0,#480e1b 30%,#480e1b 62%,#310a12 100%)"></div>
<div class="ch" style="left:40.3px;top:39.8px;width:3.4px;height:2.5px;background:rgba(255,235,240,0.35);filter:blur(0.4px)"></div>
<svg class="a" style="left:0;top:0" width="68" height="66"><path d="M21.9 10.5L20.6 41.0" stroke="#a09050" stroke-width="1.2" fill="none" stroke-linecap="round" stroke-linejoin="round"/><path d="M23.2 14.3L39.7 47.4" stroke="#a09050" stroke-width="1.2" fill="none" stroke-linecap="round" stroke-linejoin="round"/><path d="M32.1 14.3L43.5 13.8" stroke="#a09050" stroke-width="1.2" fill="none" stroke-linecap="round" stroke-linejoin="round"/></svg>
</div>
<div class="a" style="left:402px;top:223px;width:67px;height:66px;background:#dedede;overflow:hidden;box-shadow:inset 0 0 0 1px rgba(255,255,255,0.3)">
<div class="ch" style="left:8.4px;top:2.8px;width:21.2px;height:28.0px;background:radial-gradient(ellipse at 40% 36%,#985364 0,#761a31 30%,#761a31 62%,#501221 100%)"></div>
<div class="ch" style="left:13.2px;top:7.7px;width:3.7px;height:3.1px;background:rgba(255,235,240,0.35);filter:blur(0.4px)"></div>
<div class="ch" style="left:35.4px;top:5.4px;width:20.4px;height:26.8px;background:radial-gradient(ellipse at 40% 36%,#6a4d57 0,#38121f 30%,#38121f 62%,#260c15 100%)"></div>
<div class="ch" style="left:40.0px;top:10.1px;width:3.6px;height:2.9px;background:rgba(255,235,240,0.35);filter:blur(0.4px)"></div>
<div class="ch" style="left:11.0px;top:32.1px;width:22.4px;height:25.4px;background:radial-gradient(ellipse at 40% 36%,#8d5062 0,#67162d 30%,#67162d 62%,#460f1f 100%)"></div>
<div class="ch" style="left:16.0px;top:36.5px;width:3.9px;height:2.8px;background:rgba(255,235,240,0.35);filter:blur(0.4px)"></div>
<div class="ch" style="left:33.3px;top:33.4px;width:20.4px;height:24.2px;background:radial-gradient(ellipse at 40% 36%,#6a4a54 0,#380e1b 30%,#380e1b 62%,#260a12 100%)"></div>
<div class="ch" style="left:37.9px;top:37.6px;width:3.6px;height:2.7px;background:rgba(255,235,240,0.35);filter:blur(0.4px)"></div>
<svg class="a" style="left:0;top:0" width="67" height="66"><path d="M18.1 5.4L19.4 41.0" stroke="#a09050" stroke-width="1.2" fill="none" stroke-linecap="round" stroke-linejoin="round"/><path d="M20.6 13.0L38.4 46.1" stroke="#a09050" stroke-width="1.2" fill="none" stroke-linecap="round" stroke-linejoin="round"/><path d="M29.5 8.7L41.0 9.2" stroke="#a09050" stroke-width="1.2" fill="none" stroke-linecap="round" stroke-linejoin="round"/></svg>
</div>
<div class="a" style="left:53px;top:291px;width:68px;height:66px;background:#d4d8e6;overflow:hidden;box-shadow:inset 0 0 0 1px rgba(255,255,255,0.3)">
<div class="ch" style="left:26.5px;top:10.5px;width:20.4px;height:20.4px;background:radial-gradient(ellipse at 40% 36%,#cb5364 0,#ba1a31 30%,#ba1a31 62%,#7e1221 100%)"></div>
<div class="ch" style="left:31.1px;top:14.1px;width:3.6px;height:2.2px;background:rgba(255,235,240,0.35);filter:blur(0.4px)"></div>
<div class="ch" style="left:6.7px;top:27.0px;width:19.8px;height:20.4px;background:radial-gradient(ellipse at 40% 36%,#d75364 0,#ca1a31 30%,#ca1a31 62%,#891221 100%)"></div>
<div class="ch" style="left:11.2px;top:30.6px;width:3.5px;height:2.2px;background:rgba(255,235,240,0.35);filter:blur(0.4px)"></div>
<div class="ch" style="left:38.5px;top:27.6px;width:19.0px;height:19.8px;background:radial-gradient(ellipse at 40% 36%,#a45062 0,#86162d 30%,#86162d 62%,#5b0f1f 100%)"></div>
<div class="ch" style="left:42.8px;top:31.1px;width:3.3px;height:2.2px;background:rgba(255,235,240,0.35);filter:blur(0.4px)"></div>
<div class="ch" style="left:20.6px;top:41.8px;width:21.2px;height:20.4px;background:radial-gradient(ellipse at 40% 36%,#cb5062 0,#ba162d 30%,#ba162d 62%,#7e0f1f 100%)"></div>
<div class="ch" style="left:25.4px;top:45.4px;width:3.7px;height:2.2px;background:rgba(255,235,240,0.35);filter:blur(0.4px)"></div>
<svg class="a" style="left:0;top:0" width="68" height="66"><path d="M30.8 25.7L32.1 39.7L25.7 44.8" stroke="#a0a060" stroke-width="1.2" fill="none" stroke-linecap="round" stroke-linejoin="round"/><path d="M34.6 34.6L39.7 37.2" stroke="#a0a060" stroke-width="1.2" fill="none" stroke-linecap="round" stroke-linejoin="round"/></svg>
</div>
<div class="a" style="left:123px;top:291px;width:68px;height:66px;background:#e0e0e0;overflow:hidden;box-shadow:inset 0 0 0 1px rgba(255,255,255,0.3)">
<div class="ch" style="left:15.5px;top:5.5px;width:20.4px;height:19.0px;background:radial-gradient(ellipse at 40% 36%,#d75b64 0,#ca2431 30%,#ca2431 62%,#891821 100%)"></div>
<div class="ch" style="left:20.1px;top:8.8px;width:3.6px;height:2.1px;background:rgba(255,235,240,0.35);filter:blur(0.4px)"></div>
<div class="ch" style="left:6.6px;top:25.7px;width:18.6px;height:22.2px;background:radial-gradient(ellipse at 40% 36%,#d75b64 0,#ca2430 30%,#ca2430 62%,#891821 100%)"></div>
<div class="ch" style="left:10.8px;top:29.6px;width:3.3px;height:2.4px;background:rgba(255,235,240,0.35);filter:blur(0.4px)"></div>
<div class="ch" style="left:42.3px;top:14.8px;width:20.4px;height:20.4px;background:radial-gradient(ellipse at 40% 36%,#b05b64 0,#952431 30%,#952431 62%,#651821 100%)"></div>
<div class="ch" style="left:46.9px;top:18.4px;width:3.6px;height:2.2px;background:rgba(255,235,240,0.35);filter:blur(0.4px)"></div>
<div class="ch" style="left:34.6px;top:35.9px;width:19.6px;height:20.4px;background:radial-gradient(ellipse at 40% 36%,#cb535e 0,#ba1a29 30%,#ba1a29 62%,#7e121c 100%)"></div>
<div class="ch" style="left:39.0px;top:39.5px;width:3.4px;height:2.2px;background:rgba(255,235,240,0.35);filter:blur(0.4px)"></div>
<svg class="a" style="left:0;top:0" width="68" height="66"><path d="M28.3 23.2L30.8 33.4L41.0 37.2" stroke="#6a5040" stroke-width="1.2" fill="none" stroke-linecap="round" stroke-linejoin="round"/><path d="M25.7 33.4L44.8 30.8" stroke="#6a5040" stroke-width="1.2" fill="none" stroke-linecap="round" stroke-linejoin="round"/></svg>
</div>
<div class="a" style="left:193px;top:291px;width:68px;height:66px;background:#dcdcdc;overflow:hidden;box-shadow:inset 0 0 0 1px rgba(255,255,255,0.3)">
<div class="ch" style="left:15.5px;top:5.4px;width:20.4px;height:18.6px;background:radial-gradient(ellipse at 40% 36%,#ba545e 0,#a31b29 30%,#a31b29 62%,#6f121c 100%)"></div>
<div class="ch" style="left:20.1px;top:8.7px;width:3.6px;height:2.0px;background:rgba(255,235,240,0.35);filter:blur(0.4px)"></div>
<div class="ch" style="left:5.5px;top:26.6px;width:19.0px;height:20.8px;background:radial-gradient(ellipse at 40% 36%,#c5535e 0,#b21a29 30%,#b21a29 62%,#79121c 100%)"></div>
<div class="ch" style="left:9.8px;top:30.2px;width:3.3px;height:2.3px;background:rgba(255,235,240,0.35);filter:blur(0.4px)"></div>
<div class="ch" style="left:42.3px;top:16.9px;width:19.0px;height:19.0px;background:radial-gradient(ellipse at 40% 36%,#8d5059 0,#671622 30%,#671622 62%,#460f17 100%)"></div>
<div class="ch" style="left:46.6px;top:20.2px;width:3.3px;height:2.1px;background:rgba(255,235,240,0.35);filter:blur(0.4px)"></div>
<div class="ch" style="left:34.6px;top:36.7px;width:20.4px;height:18.8px;background:radial-gradient(ellipse at 40% 36%,#c05059 0,#ab1622 30%,#ab1622 62%,#740f17 100%)"></div>
<div class="ch" style="left:39.2px;top:40.0px;width:3.6px;height:2.1px;background:rgba(255,235,240,0.35);filter:blur(0.4px)"></div>
<svg class="a" style="left:0;top:0" width="68" height="66"><path d="M28.3 23.2L37.2 33.4L46.1 37.2" stroke="#8a7050" stroke-width="1.2" fill="none" stroke-linecap="round" stroke-linejoin="round"/><path d="M24.5 37.2L43.5 34.6" stroke="#8a7050" stroke-width="1.2" fill="none" stroke-linecap="round" stroke-linejoin="round"/></svg>
</div>
<div class="a" style="left:263px;top:291px;width:67px;height:66px;background:#dcdcdc;overflow:hidden;box-shadow:inset 0 0 0 1px rgba(255,255,255,0.3)">
<div class="ch" style="left:15.1px;top:7.9px;width:20.8px;height:17.8px;background:radial-gradient(ellipse at 40% 36%,#a45059 0,#861622 30%,#861622 62%,#5b0f17 100%)"></div>
<div class="ch" style="left:19.8px;top:11.0px;width:3.6px;height:2.0px;background:rgba(255,235,240,0.35);filter:blur(0.4px)"></div>
<div class="ch" style="left:5.4px;top:28.3px;width:18.4px;height:20.4px;background:radial-gradient(ellipse at 40% 36%,#c0535e 0,#ab1a29 30%,#ab1a29 62%,#74121c 100%)"></div>
<div class="ch" style="left:9.5px;top:31.9px;width:3.2px;height:2.2px;background:rgba(255,235,240,0.35);filter:blur(0.4px)"></div>
<div class="ch" style="left:42.3px;top:19.5px;width:19.0px;height:19.0px;background:radial-gradient(ellipse at 40% 36%,#814d57 0,#57121f 30%,#57121f 62%,#3b0c15 100%)"></div>
<div class="ch" style="left:46.6px;top:22.8px;width:3.3px;height:2.1px;background:rgba(255,235,240,0.35);filter:blur(0.4px)"></div>
<div class="ch" style="left:34.6px;top:38.5px;width:20.4px;height:17.8px;background:radial-gradient(ellipse at 40% 36%,#b45059 0,#9b1622 30%,#9b1622 62%,#690f17 100%)"></div>
<div class="ch" style="left:39.2px;top:41.6px;width:3.6px;height:2.0px;background:rgba(255,235,240,0.35);filter:blur(0.4px)"></div>
<svg class="a" style="left:0;top:0" width="67" height="66"><path d="M29.5 24.5L35.9 34.6L46.1 32.1" stroke="#6a5040" stroke-width="1.2" fill="none" stroke-linecap="round" stroke-linejoin="round"/><path d="M23.2 39.7L41.0 37.2" stroke="#6a5040" stroke-width="1.2" fill="none" stroke-linecap="round" stroke-linejoin="round"/></svg>
</div>
<div class="a" style="left:332px;top:291px;width:68px;height:66px;background:#dcdcdc;overflow:hidden;box-shadow:inset 0 0 0 1px rgba(255,255,255,0.3)">
<div class="ch" style="left:15.5px;top:5.3px;width:19.6px;height:20.4px;background:radial-gradient(ellipse at 40% 36%,#a45059 0,#861622 30%,#861622 62%,#5b0f17 100%)"></div>
<div class="ch" style="left:19.9px;top:8.9px;width:3.4px;height:2.2px;background:rgba(255,235,240,0.35);filter:blur(0.4px)"></div>
<div class="ch" style="left:5.3px;top:29.5px;width:18.6px;height:23.0px;background:radial-gradient(ellipse at 40% 36%,#b05059 0,#951622 30%,#951622 62%,#650f17 100%)"></div>
<div class="ch" style="left:9.5px;top:33.5px;width:3.3px;height:2.5px;background:rgba(255,235,240,0.35);filter:blur(0.4px)"></div>
<div class="ch" style="left:44.3px;top:19.3px;width:17.0px;height:20.4px;background:radial-gradient(ellipse at 40% 36%,#764d54 0,#48121b 30%,#48121b 62%,#310c12 100%)"></div>
<div class="ch" style="left:48.1px;top:22.9px;width:3.0px;height:2.2px;background:rgba(255,235,240,0.35);filter:blur(0.4px)"></div>
<div class="ch" style="left:36.0px;top:40.9px;width:19.0px;height:21.2px;background:radial-gradient(ellipse at 40% 36%,#984d54 0,#76121b 30%,#76121b 62%,#500c12 100%)"></div>
<div class="ch" style="left:40.3px;top:44.6px;width:3.3px;height:2.3px;background:rgba(255,235,240,0.35);filter:blur(0.4px)"></div>
<svg class="a" style="left:0;top:0" width="68" height="66"><path d="M27.0 24.5L37.2 34.6L42.3 43.5" stroke="#6a5040" stroke-width="1.2" fill="none" stroke-linecap="round" stroke-linejoin="round"/><path d="M37.2 21.9L41.0 32.1L46.1 27.0" stroke="#6a5040" stroke-width="1.2" fill="none" stroke-linecap="round" stroke-linejoin="round"/><path d="M24.5 39.7L39.7 39.7" stroke="#6a5040" stroke-width="1.2" fill="none" stroke-linecap="round" stroke-linejoin="round"/></svg>
</div>
<div class="a" style="left:402px;top:291px;width:67px;height:66px;background:#dedede;overflow:hidden;box-shadow:inset 0 0 0 1px rgba(255,255,255,0.3)">
<div class="ch" style="left:15.1px;top:6.1px;width:17.0px;height:17.8px;background:radial-gradient(ellipse at 40% 36%,#764d57 0,#48121f 30%,#48121f 62%,#310c15 100%)"></div>
<div class="ch" style="left:18.9px;top:9.2px;width:3.0px;height:2.0px;background:rgba(255,235,240,0.35);filter:blur(0.4px)"></div>
<div class="ch" style="left:5.4px;top:29.0px;width:16.6px;height:23.0px;background:radial-gradient(ellipse at 40% 36%,#b0626c 0,#952d3b 30%,#952d3b 62%,#651f28 100%)"></div>
<div class="ch" style="left:9.1px;top:33.0px;width:2.9px;height:2.5px;background:rgba(255,235,240,0.35);filter:blur(0.4px)"></div>
<div class="ch" style="left:43.6px;top:19.5px;width:15.2px;height:19.0px;background:radial-gradient(ellipse at 40% 36%,#6a4d54 0,#38121b 30%,#38121b 62%,#260c12 100%)"></div>
<div class="ch" style="left:47.0px;top:22.8px;width:2.7px;height:2.1px;background:rgba(255,235,240,0.35);filter:blur(0.4px)"></div>
<div class="ch" style="left:34.6px;top:41.8px;width:17.8px;height:20.8px;background:radial-gradient(ellipse at 40% 36%,#8d5059 0,#671622 30%,#671622 62%,#460f17 100%)"></div>
<div class="ch" style="left:38.6px;top:45.4px;width:3.1px;height:2.3px;background:rgba(255,235,240,0.35);filter:blur(0.4px)"></div>
<svg class="a" style="left:0;top:0" width="67" height="66"><path d="M27.0 21.9L33.4 34.6L42.3 39.7" stroke="#6a5040" stroke-width="1.2" fill="none" stroke-linecap="round" stroke-linejoin="round"/><path d="M35.9 21.9L37.2 29.5L48.6 30.8" stroke="#6a5040" stroke-width="1.2" fill="none" stroke-linecap="round" stroke-linejoin="round"/><path d="M23.2 41.0L38.4 39.7" stroke="#6a5040" stroke-width="1.2" fill="none" stroke-linecap="round" stroke-linejoin="round"/></svg>
</div>
<svg class="a" style="left:0;top:0" width="550" height="756"><ellipse cx="217.4" cy="38.4" rx="10.2" ry="9.2" fill="none" stroke="#3cb878" stroke-width="1.5"/><ellipse cx="239.8" cy="63.9" rx="10.2" ry="8.7" fill="none" stroke="#3cb878" stroke-width="1.5"/><ellipse cx="288.7" cy="41.2" rx="9.7" ry="8.4" fill="none" stroke="#3cb878" stroke-width="1.5"/><ellipse cx="317.3" cy="64.1" rx="10.8" ry="8.4" fill="none" stroke="#e6d21e" stroke-width="1.5"/><ellipse cx="276.9" cy="104.1" rx="9.8" ry="8.9" fill="none" stroke="#3cb878" stroke-width="1.5"/><ellipse cx="285.5" cy="128.9" rx="11.5" ry="8.3" fill="none" stroke="#e6d21e" stroke-width="1.5"/><ellipse cx="356.2" cy="108.3" rx="10.4" ry="9.3" fill="none" stroke="#3cb878" stroke-width="1.5"/><ellipse cx="370.2" cy="130.5" rx="11.2" ry="8.5" fill="none" stroke="#e6d21e" stroke-width="1.5"/><ellipse cx="278.1" cy="199.9" rx="9.3" ry="8.7" fill="none" stroke="#3cb878" stroke-width="1.5"/><ellipse cx="345.7" cy="176.3" rx="10.2" ry="9.3" fill="none" stroke="#3cb878" stroke-width="1.5"/><ellipse cx="353.9" cy="205" rx="10.2" ry="9.2" fill="none" stroke="#3cb878" stroke-width="1.5"/></svg>
<div class="lbl" style="left:475.5px;top:51.6px">Blank control</div>
<div class="lbl" style="left:476.5px;top:115.9px">PSC-6:4</div>
<div class="lbl" style="left:476.5px;top:183.7px">PSC-PPE-300</div>
<div class="lbl" style="left:476.5px;top:250.9px">PSC-PPE-500</div>
<div class="lbl" style="left:477.6px;top:315.6px">PSC-PPE-700</div>
<div class="lbl" style="left:66.4px;top:365.2px;word-spacing:0.5px">0 Day</div>
<div class="lbl" style="left:137.2px;top:366.4px;word-spacing:0.5px">1 Day</div>
<div class="lbl" style="left:206.4px;top:366.4px;word-spacing:0.5px">3 Day</div>
<div class="lbl" style="left:275.4px;top:365.2px;word-spacing:0.5px">5 Day</div>
<div class="lbl" style="left:343.1px;top:366.4px;word-spacing:0.5px">7 Day</div>
<div class="lbl" style="left:416.4px;top:365.2px;word-spacing:0.5px">9 Day</div>
<div class="a" style="left:0;top:386px;width:500px;height:3px;background:#f7f7f7"></div>
<div class="a" style="left:13.5px;top:411px;font-size:18.5px;color:#222;line-height:1.1">(<b>f</b>)</div>
<svg class="a" style="left:0;top:0" width="550" height="756" font-family="Liberation Serif"><rect x="80.00" y="665.31" width="11.15" height="53.69" fill="#f9c08f" stroke="#444" stroke-width="1"/><path d="M85.58 662.21V668.41M82.98 662.21h5.2M82.98 668.41h5.2" stroke="#444" stroke-width="0.8" fill="none"/><text x="85.58" y="661.01" font-size="8.5" text-anchor="middle" fill="#262626">a</text><rect x="91.55" y="674.08" width="11.15" height="44.92" fill="#92d08e" stroke="#444" stroke-width="1"/><path d="M97.12 672.75V675.41M94.53 672.75h5.2M94.53 675.41h5.2" stroke="#444" stroke-width="0.8" fill="none"/><text x="97.12" y="671.55" font-size="8.5" text-anchor="middle" fill="#262626">b</text><rect x="103.10" y="681.17" width="11.15" height="37.83" fill="#c3aedb" stroke="#444" stroke-width="1"/><path d="M108.67 679.40V682.94M106.08 679.40h5.2M106.08 682.94h5.2" stroke="#444" stroke-width="0.8" fill="none"/><text x="108.67" y="678.20" font-size="8.5" text-anchor="middle" fill="#262626">c</text><rect x="114.65" y="681.17" width="11.15" height="37.83" fill="#fdf88e" stroke="#444" stroke-width="1"/><path d="M120.23 680.10V682.23M117.63 680.10h5.2M117.63 682.23h5.2" stroke="#444" stroke-width="0.8" fill="none"/><text x="120.23" y="678.90" font-size="8.5" text-anchor="middle" fill="#262626">c</text><rect x="126.20" y="683.38" width="11.15" height="35.62" fill="#93b4ee" stroke="#444" stroke-width="1"/><path d="M131.78 682.50V684.27M129.18 682.50h5.2M129.18 684.27h5.2" stroke="#444" stroke-width="0.8" fill="none"/><text x="131.78" y="681.30" font-size="8.5" text-anchor="middle" fill="#262626">c</text><rect x="151.30" y="640.59" width="11.15" height="78.41" fill="#f9c08f" stroke="#444" stroke-width="1"/><path d="M156.88 637.49V643.69M154.28 637.49h5.2M154.28 643.69h5.2" stroke="#444" stroke-width="0.8" fill="none"/><text x="156.88" y="636.29" font-size="8.5" text-anchor="middle" fill="#262626">a</text><rect x="162.85" y="657.60" width="11.15" height="61.40" fill="#92d08e" stroke="#444" stroke-width="1"/><path d="M168.43 656.27V658.93M165.83 656.27h5.2M165.83 658.93h5.2" stroke="#444" stroke-width="0.8" fill="none"/><text x="168.43" y="655.07" font-size="8.5" text-anchor="middle" fill="#262626">b</text><rect x="174.40" y="667.26" width="11.15" height="51.74" fill="#c3aedb" stroke="#444" stroke-width="1"/><path d="M179.98 665.04V669.47M177.38 665.04h5.2M177.38 669.47h5.2" stroke="#444" stroke-width="0.8" fill="none"/><text x="179.98" y="663.84" font-size="8.5" text-anchor="middle" fill="#262626">c</text><rect x="185.95" y="667.88" width="11.15" height="51.12" fill="#fdf88e" stroke="#444" stroke-width="1"/><path d="M191.53 666.81V668.94M188.93 666.81h5.2M188.93 668.94h5.2" stroke="#444" stroke-width="0.8" fill="none"/><text x="191.53" y="665.61" font-size="8.5" text-anchor="middle" fill="#262626">c</text><rect x="197.50" y="667.88" width="11.15" height="51.12" fill="#93b4ee" stroke="#444" stroke-width="1"/><path d="M203.08 666.99V668.76M200.48 666.99h5.2M200.48 668.76h5.2" stroke="#444" stroke-width="0.8" fill="none"/><text x="203.08" y="665.79" font-size="8.5" text-anchor="middle" fill="#262626">c</text><rect x="222.60" y="577.42" width="11.15" height="141.58" fill="#f9c08f" stroke="#444" stroke-width="1"/><path d="M228.18 576.35V578.48M225.58 576.35h5.2M225.58 578.48h5.2" stroke="#444" stroke-width="0.8" fill="none"/><text x="228.18" y="575.15" font-size="8.5" text-anchor="middle" fill="#262626">a</text><rect x="234.15" y="611.17" width="11.15" height="107.83" fill="#92d08e" stroke="#444" stroke-width="1"/><path d="M239.73 610.29V612.06M237.13 610.29h5.2M237.13 612.06h5.2" stroke="#444" stroke-width="0.8" fill="none"/><text x="239.73" y="609.09" font-size="8.5" text-anchor="middle" fill="#262626">b</text><rect x="245.70" y="636.69" width="11.15" height="82.31" fill="#c3aedb" stroke="#444" stroke-width="1"/><path d="M251.28 635.63V637.75M248.68 635.63h5.2M248.68 637.75h5.2" stroke="#444" stroke-width="0.8" fill="none"/><text x="251.28" y="634.43" font-size="8.5" text-anchor="middle" fill="#262626">cd</text><rect x="257.25" y="637.40" width="11.15" height="81.60" fill="#fdf88e" stroke="#444" stroke-width="1"/><path d="M262.82 636.51V638.29M260.22 636.51h5.2M260.22 638.29h5.2" stroke="#444" stroke-width="0.8" fill="none"/><text x="262.82" y="635.31" font-size="8.5" text-anchor="middle" fill="#262626">d</text><rect x="268.80" y="634.30" width="11.15" height="84.70" fill="#93b4ee" stroke="#444" stroke-width="1"/><path d="M274.38 633.59V635.01M271.77 633.59h5.2M271.77 635.01h5.2" stroke="#444" stroke-width="0.8" fill="none"/><text x="274.38" y="632.39" font-size="8.5" text-anchor="middle" fill="#262626">c</text><rect x="293.90" y="529.84" width="11.15" height="189.16" fill="#f9c08f" stroke="#444" stroke-width="1"/><path d="M299.47 524.97V534.71M296.87 524.97h5.2M296.87 534.71h5.2" stroke="#444" stroke-width="0.8" fill="none"/><text x="299.47" y="523.77" font-size="8.5" text-anchor="middle" fill="#262626">a</text><rect x="305.45" y="573.34" width="11.15" height="145.66" fill="#92d08e" stroke="#444" stroke-width="1"/><path d="M311.02 569.35V577.33M308.42 569.35h5.2M308.42 577.33h5.2" stroke="#444" stroke-width="0.8" fill="none"/><text x="311.02" y="568.15" font-size="8.5" text-anchor="middle" fill="#262626">b</text><rect x="317.00" y="610.38" width="11.15" height="108.62" fill="#c3aedb" stroke="#444" stroke-width="1"/><path d="M322.57 606.66V614.10M319.97 606.66h5.2M319.97 614.10h5.2" stroke="#444" stroke-width="0.8" fill="none"/><text x="322.57" y="605.46" font-size="8.5" text-anchor="middle" fill="#262626">c</text><rect x="328.55" y="605.15" width="11.15" height="113.85" fill="#fdf88e" stroke="#444" stroke-width="1"/><path d="M334.12 601.43V608.87M331.52 601.43h5.2M331.52 608.87h5.2" stroke="#444" stroke-width="0.8" fill="none"/><text x="334.12" y="600.23" font-size="8.5" text-anchor="middle" fill="#262626">c</text><rect x="340.10" y="605.15" width="11.15" height="113.85" fill="#93b4ee" stroke="#444" stroke-width="1"/><path d="M345.67 601.43V608.87M343.07 601.43h5.2M343.07 608.87h5.2" stroke="#444" stroke-width="0.8" fill="none"/><text x="345.67" y="600.23" font-size="8.5" text-anchor="middle" fill="#262626">c</text><rect x="365.20" y="473.93" width="11.15" height="245.07" fill="#f9c08f" stroke="#444" stroke-width="1"/><path d="M370.77 470.39V477.48M368.17 470.39h5.2M368.17 477.48h5.2" stroke="#444" stroke-width="0.8" fill="none"/><text x="370.77" y="469.19" font-size="8.5" text-anchor="middle" fill="#262626">a</text><rect x="376.75" y="524.35" width="11.15" height="194.65" fill="#92d08e" stroke="#444" stroke-width="1"/><path d="M382.32 516.37V532.32M379.72 516.37h5.2M379.72 532.32h5.2" stroke="#444" stroke-width="0.8" fill="none"/><text x="382.32" y="515.17" font-size="8.5" text-anchor="middle" fill="#262626">b</text><rect x="388.30" y="554.82" width="11.15" height="164.18" fill="#c3aedb" stroke="#444" stroke-width="1"/><path d="M393.88 549.07V560.58M391.27 549.07h5.2M391.27 560.58h5.2" stroke="#444" stroke-width="0.8" fill="none"/><text x="393.88" y="547.87" font-size="8.5" text-anchor="middle" fill="#262626">c</text><rect x="399.85" y="555.44" width="11.15" height="163.56" fill="#fdf88e" stroke="#444" stroke-width="1"/><path d="M405.43 542.15V568.73M402.82 542.15h5.2M402.82 568.73h5.2" stroke="#444" stroke-width="0.8" fill="none"/><text x="405.43" y="540.95" font-size="8.5" text-anchor="middle" fill="#262626">c</text><rect x="411.40" y="555.44" width="11.15" height="163.56" fill="#93b4ee" stroke="#444" stroke-width="1"/><path d="M416.97 550.13V560.76M414.37 550.13h5.2M414.37 560.76h5.2" stroke="#444" stroke-width="0.8" fill="none"/><text x="416.97" y="548.93" font-size="8.5" text-anchor="middle" fill="#262626">c</text><path d="M72.8 431.5H429.8V719M72.8 431.5V719H429.8" stroke="#222" stroke-width="1.6" fill="none"/><path d="M68.5 719.00H72.8" stroke="#222" stroke-width="1.2"/><text x="66.5" y="722.80" font-size="11.5" text-anchor="end" fill="#262626">0</text><path d="M68.5 674.70H72.8" stroke="#222" stroke-width="1.2"/><text x="66.5" y="678.50" font-size="11.5" text-anchor="end" fill="#262626">5</text><path d="M68.5 630.40H72.8" stroke="#222" stroke-width="1.2"/><text x="66.5" y="634.20" font-size="11.5" text-anchor="end" fill="#262626">10</text><path d="M68.5 586.10H72.8" stroke="#222" stroke-width="1.2"/><text x="66.5" y="589.90" font-size="11.5" text-anchor="end" fill="#262626">15</text><path d="M68.5 541.80H72.8" stroke="#222" stroke-width="1.2"/><text x="66.5" y="545.60" font-size="11.5" text-anchor="end" fill="#262626">20</text><path d="M68.5 497.50H72.8" stroke="#222" stroke-width="1.2"/><text x="66.5" y="501.30" font-size="11.5" text-anchor="end" fill="#262626">25</text><path d="M68.5 453.20H72.8" stroke="#222" stroke-width="1.2"/><text x="66.5" y="457.00" font-size="11.5" text-anchor="end" fill="#262626">30</text><path d="M70.5 696.85H72.8" stroke="#222" stroke-width="1.2"/><path d="M70.5 652.55H72.8" stroke="#222" stroke-width="1.2"/><path d="M70.5 608.25H72.8" stroke="#222" stroke-width="1.2"/><path d="M70.5 563.95H72.8" stroke="#222" stroke-width="1.2"/><path d="M70.5 519.65H72.8" stroke="#222" stroke-width="1.2"/><path d="M70.5 475.35H72.8" stroke="#222" stroke-width="1.2"/><path d="M108.38 719V723" stroke="#222" stroke-width="1.2"/><text x="108.38" y="733.5" font-size="11.5" text-anchor="middle" fill="#262626">1</text><path d="M144.03 719V721.5" stroke="#222" stroke-width="1.2"/><path d="M179.68 719V723" stroke="#222" stroke-width="1.2"/><text x="179.68" y="733.5" font-size="11.5" text-anchor="middle" fill="#262626">3</text><path d="M215.33 719V721.5" stroke="#222" stroke-width="1.2"/><path d="M250.97 719V723" stroke="#222" stroke-width="1.2"/><text x="250.97" y="733.5" font-size="11.5" text-anchor="middle" fill="#262626">5</text><path d="M286.62 719V721.5" stroke="#222" stroke-width="1.2"/><path d="M322.27 719V723" stroke="#222" stroke-width="1.2"/><text x="322.27" y="733.5" font-size="11.5" text-anchor="middle" fill="#262626">7</text><path d="M357.92 719V721.5" stroke="#222" stroke-width="1.2"/><path d="M393.57 719V723" stroke="#222" stroke-width="1.2"/><text x="393.57" y="733.5" font-size="11.5" text-anchor="middle" fill="#262626">9</text><path d="M72.8 719V721.5" stroke="#222" stroke-width="1.2"/><text x="251.5" y="750" font-size="11" text-anchor="middle" fill="#262626">Time (day)</text><text transform="translate(44 562.8) rotate(-90)" font-size="11" text-anchor="middle" fill="#262626" xml:space="preserve">Weight  Loss (%)</text><rect x="91" y="443.40" width="14.5" height="7.5" rx="1.5" fill="#f9c08f" stroke="#444" stroke-width="1"/><text x="112.3" y="450.60" font-size="7" fill="#1a1a1a">Uncoated</text><rect x="91" y="455.90" width="14.5" height="7.5" rx="1.5" fill="#92d08e" stroke="#444" stroke-width="1"/><text x="112.3" y="463.10" font-size="7" fill="#1a1a1a">PSC-6:4</text><rect x="91" y="468.40" width="14.5" height="7.5" rx="1.5" fill="#c3aedb" stroke="#444" stroke-width="1"/><text x="112.3" y="475.60" font-size="7" fill="#1a1a1a">PSC-PPE-300</text><rect x="91" y="480.90" width="14.5" height="7.5" rx="1.5" fill="#fdf88e" stroke="#444" stroke-width="1"/><text x="112.3" y="488.10" font-size="7" fill="#1a1a1a">PSC-PPE-500</text><rect x="91" y="493.40" width="14.5" height="7.5" rx="1.5" fill="#93b4ee" stroke="#444" stroke-width="1"/><text x="112.3" y="500.60" font-size="7" fill="#1a1a1a">PSC-PPE-700</text></svg></body></html>
